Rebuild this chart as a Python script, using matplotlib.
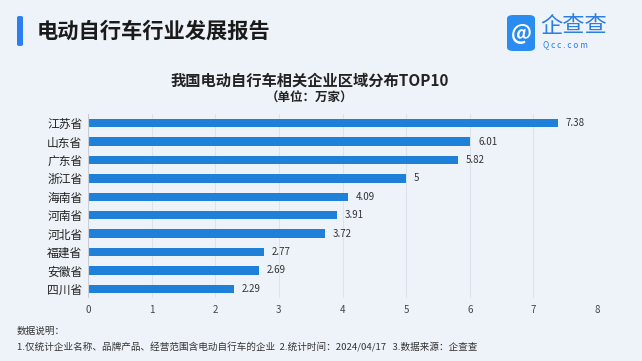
import matplotlib.pyplot as plt
from matplotlib.patches import FancyBboxPatch

plt.rcParams['font.family'] = ['Noto Sans CJK SC', 'DejaVu Sans']

provinces = ['江苏省', '山东省', '广东省', '浙江省', '海南省', '河南省', '河北省', '福建省', '安徽省', '四川省']
counts = [7.38, 6.01, 5.82, 5, 4.09, 3.91, 3.72, 2.77, 2.69, 2.29]
labels = ['7.38', '6.01', '5.82', '5', '4.09', '3.91', '3.72', '2.77', '2.69', '2.29']
xticks = [0, 1, 2, 3, 4, 5, 6, 7, 8]

bg = '#eef3f9'
bar_color = '#1f80d9'

fig = plt.figure(figsize=(6.42, 3.61), dpi=100)
fig.patch.set_facecolor(bg)

# header
fig.patches.append(FancyBboxPatch((17 / 642, 1 - 46 / 361), 6 / 642, 30 / 361,
                                  boxstyle='round,pad=0,rounding_size=0.004',
                                  transform=fig.transFigure, facecolor='#2b7ff0',
                                  edgecolor='none'))
fig.text(37 / 642, 1 - 31 / 361, '电动自行车行业发展报告', fontsize=15.3,
         fontweight='bold', color='#1a1a1a', va='center', ha='left')

# logo
fig.patches.append(FancyBboxPatch((507 / 642, 1 - 51 / 361), 28 / 642, 36 / 361,
                                  boxstyle='round,pad=0,rounding_size=0.01',
                                  transform=fig.transFigure, facecolor='#2a8cf0',
                                  edgecolor='none'))
fig.text(521 / 642, 1 - 33 / 361, '@', fontsize=15, color='white',
         ha='center', va='center', fontweight='bold')
fig.text(540 / 642, 1 - 26 / 361, '企查查', fontsize=16, color='#2a7fe0',
         ha='left', va='center')
fig.text(543 / 642, 1 - 45 / 361, 'Q c c . c o m', fontsize=6, color='#2a7fe0',
         ha='left', va='center')

# chart titles
fig.text(310 / 642, 1 - 81 / 361, '我国电动自行车相关企业区域分布TOP10', fontsize=11,
         fontweight='bold', color='#222222', ha='center', va='center')
fig.text(309 / 642, 1 - 98 / 361, '（单位：万家）', fontsize=9,
         fontweight='bold', color='#222222', ha='center', va='center')

ax = fig.add_axes([88 / 642, 1 - 298 / 361, (597 - 88) / 642, (298 - 114) / 361])
ax.set_facecolor('none')
y = list(range(len(provinces)))
ax.barh(y, counts, height=0.45, color=bar_color)
for yi, v, lab in zip(y, counts, labels):
    ax.text(v + 0.12, yi, lab, va='center', ha='left', fontsize=7, color='#333333')

ax.set_xlim(0, 8)
ax.set_ylim(len(provinces) - 0.5, -0.5)
ax.set_yticks(y)
ax.set_yticklabels(provinces, fontsize=8.5, color='#222222')
ax.set_xticks(xticks)
ax.set_xticklabels([str(t) for t in xticks], fontsize=7, color='#444444')
ax.tick_params(length=0, pad=5)
ax.tick_params(axis='y', pad=4)
ax.grid(axis='x', color='#dde3ea', linewidth=0.8)
ax.set_axisbelow(True)
for s in ax.spines.values():
    s.set_visible(False)
ax.axvline(0, color='#c8ced6', linewidth=0.8)

# footnote
fig.text(17 / 642, 1 - 331 / 361, '数据说明：', fontsize=6.9, color='#333333',
         ha='left', va='center')
fig.text(17 / 642, 1 - 347 / 361,
         '1.仅统计企业名称、品牌产品、经营范围含电动自行车的企业  2.统计时间：2024/04/17   3.数据来源：企查查',
         fontsize=6.9, color='#333333', ha='left', va='center')

fig.savefig('out.png', dpi=100, facecolor=fig.get_facecolor())
